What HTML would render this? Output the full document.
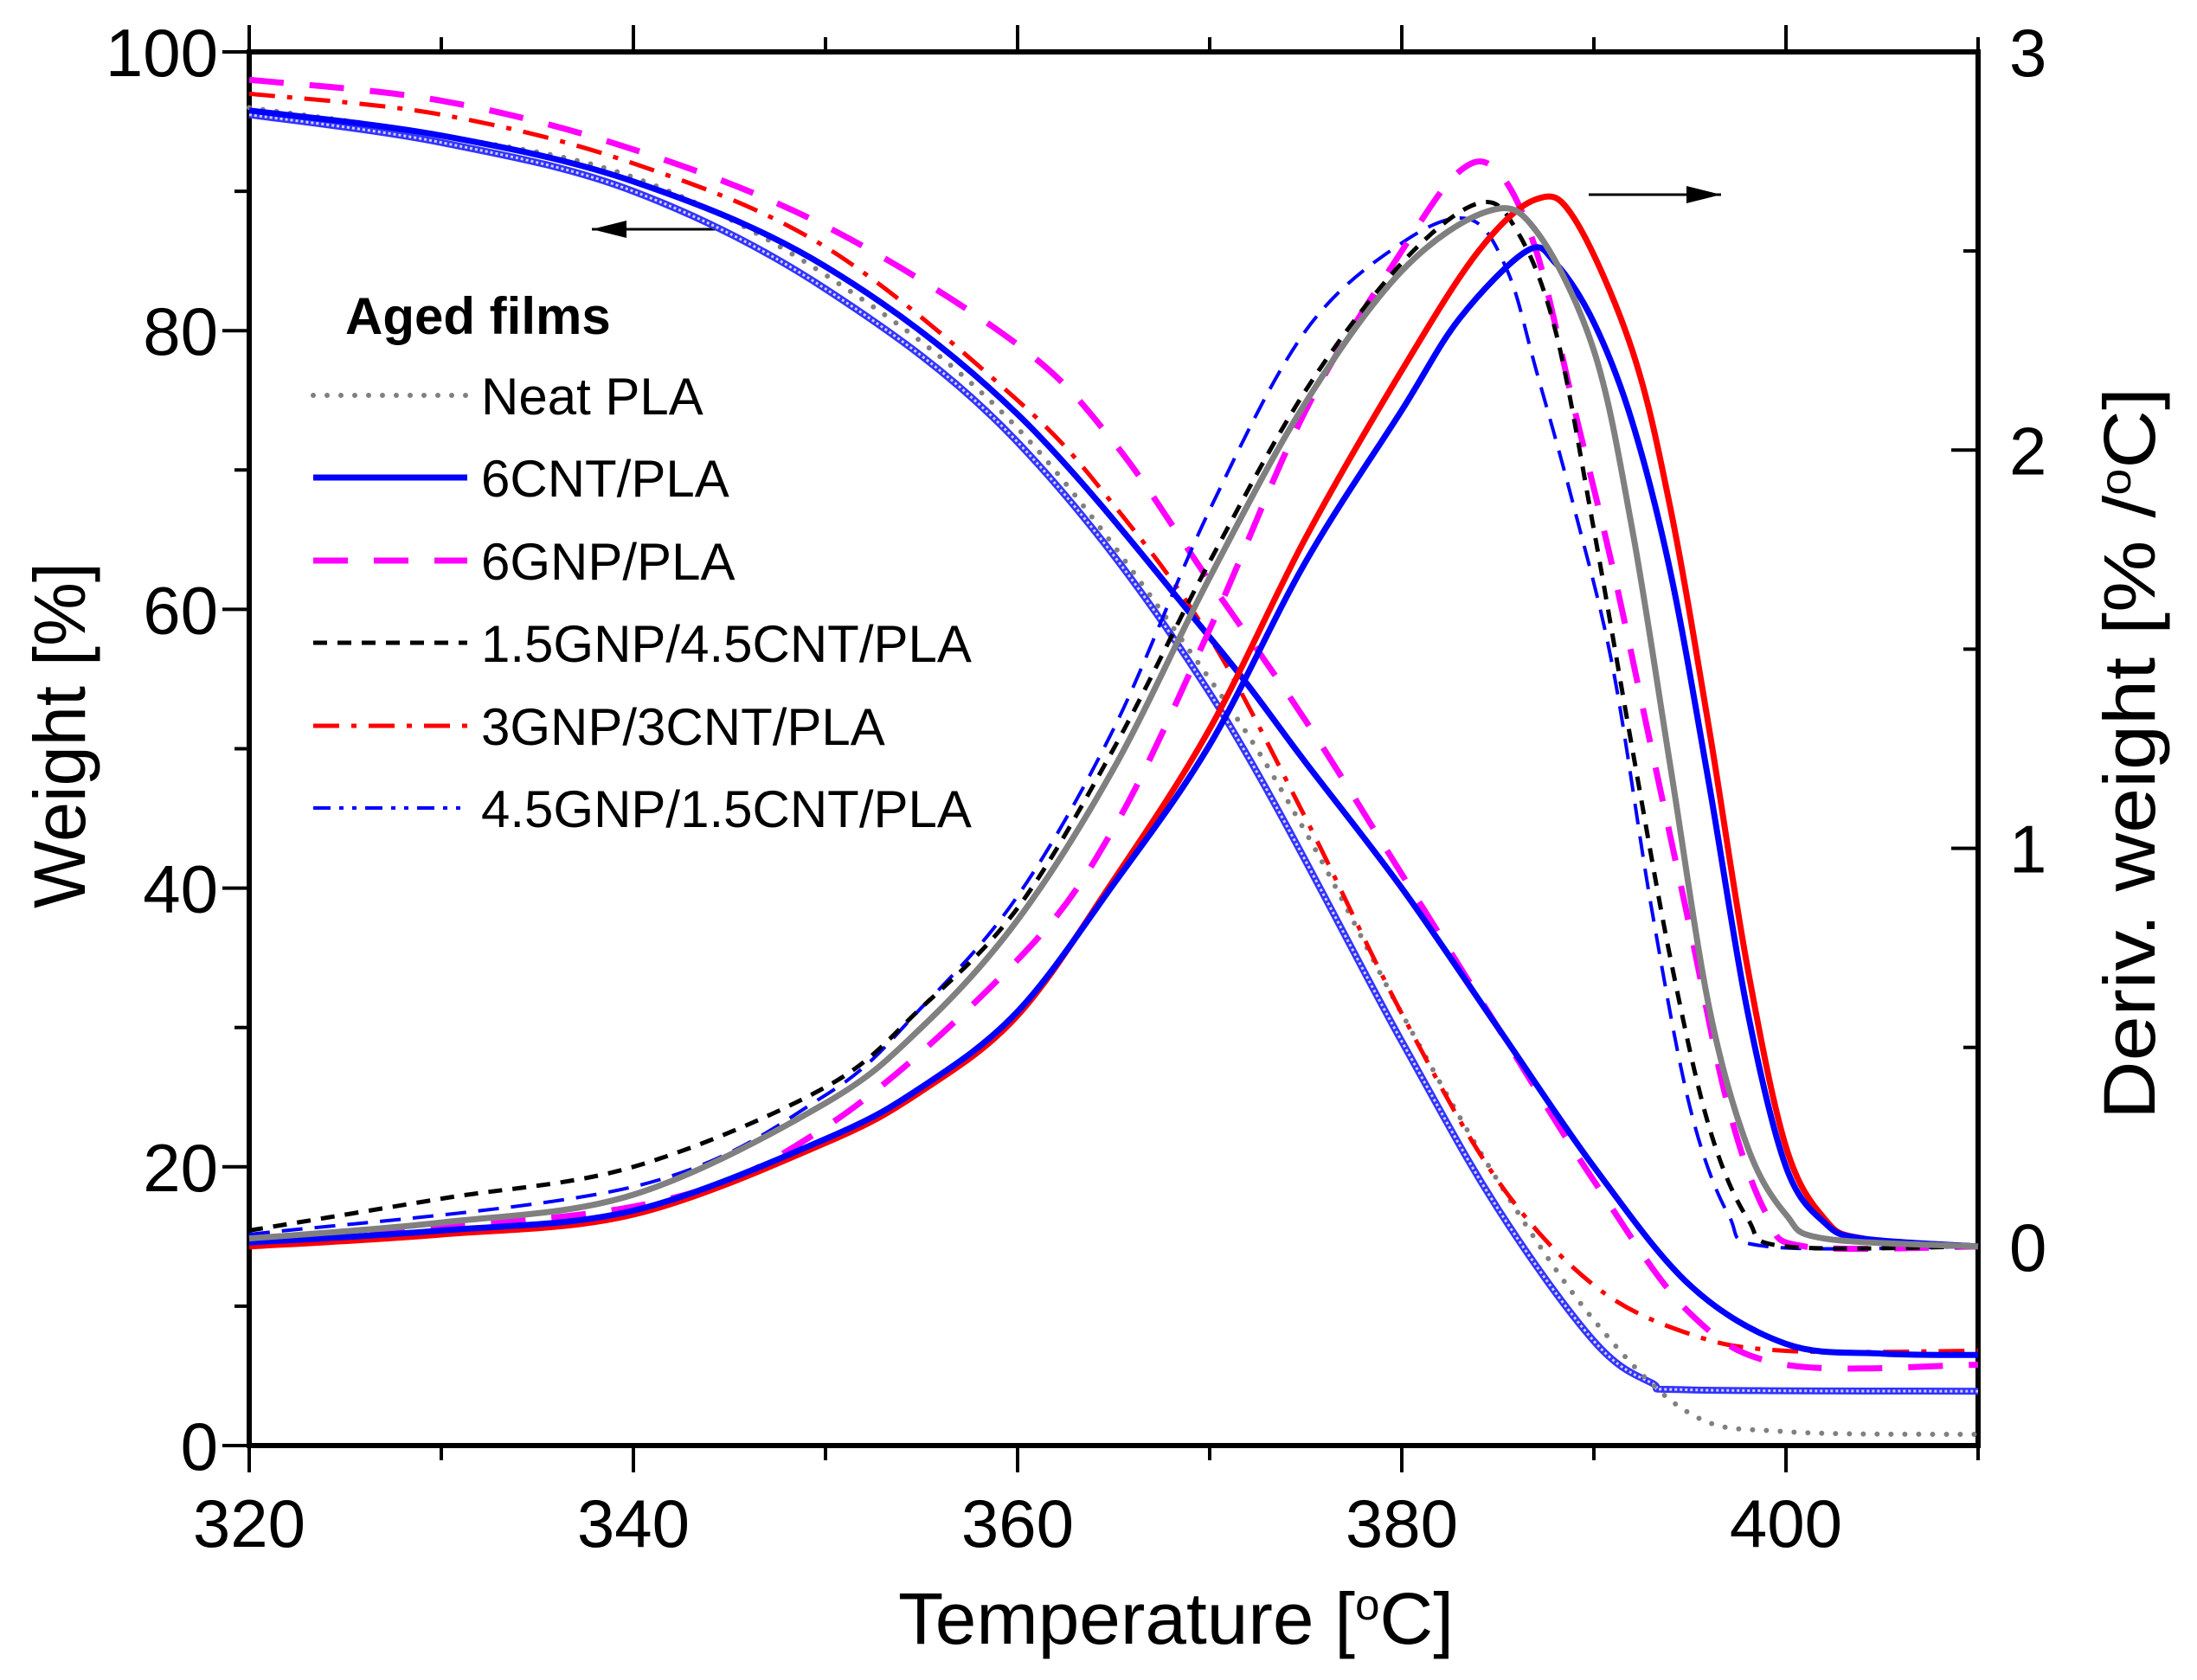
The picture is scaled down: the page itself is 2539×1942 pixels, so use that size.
<!DOCTYPE html>
<html><head><meta charset="utf-8"><style>
html,body{margin:0;padding:0;background:#fff}
svg{display:block}
text{font-family:"Liberation Sans",sans-serif}
</style></head><body>
<svg id="chart" width="2539" height="1942" viewBox="0 0 2539 1942" xmlns="http://www.w3.org/2000/svg">
<g id="axes"></g>
<g id="series"></g>
<g id="legend"></g>
</svg>
<script>
const xTicks=[320,340,360,380,400];
const yLeftTicks=[0,20,40,60,80,100];
const yRightTicks=[0,1,2,3];
// Weight curves
const wT_neat=[320,330,340,350,360,370,375,380,385,390,395,400,410];
const wV_neat=[96,94,91,84,73,55,44,31,19,9,2.3,1,0.8];
const wT_cnt=[320,330,340,350,360,370,375,380,385,390,395,400,405,410];
const wV_cnt=[95.8,94,90.7,84.6,74,58,49,40,30,20,11.5,7.3,6.6,6.5];
const wT_gnp=[320,330,340,350,360,365,370,375,380,385,390,395,400,410];
const wV_gnp=[98,96.5,93,87.5,79,72,62,52,41,30,19,9.5,5.8,5.8];
const wT_3=[320,330,340,350,360,365,370,375,380,385,390,395,400,410];
const wV_3=[97,95.5,92,86,75,67.5,58,45,31,19,11.5,8,6.8,6.8];
const wT_45=[320,330,340,350,360,370,380,385,390,393,395,410];
const wV_45=[95.5,93.5,90,83,72,54,29,17,7.5,4.5,4,3.9];
// Derivative curves
const dT_cnt=[320,330,340,350,355,360,365,370,375,380,383,386.5,388,390,392,394,396,398,400,402,404,410];
const dV_cnt=[0.01,0.04,0.09,0.27,0.40,0.59,0.91,1.26,1.72,2.1,2.33,2.5,2.47,2.32,2.07,1.69,1.16,0.59,0.2,0.06,0.02,0];
const dT_red=[320,330,340,350,355,360,365,370,375,380,384,387,389,392,394,396,398,400,402,404,410];
const dV_red=[0.0,0.03,0.08,0.26,0.39,0.58,0.92,1.30,1.78,2.2,2.5,2.63,2.58,2.25,1.85,1.3,0.7,0.25,0.07,0.02,0];
const dT_grey=[320,330,340,350,355,360,365,370,375,380,384.5,387,390,392,394,396,398,400,402,410];
const dV_grey=[0.02,0.06,0.13,0.36,0.55,0.82,1.2,1.68,2.12,2.45,2.6,2.55,2.25,1.8,1.2,0.6,0.25,0.08,0.02,0];
const dT_black=[320,330,340,350,355,360,365,370,375,380,384,386,388,390,392,394,396,398,400,410];
const dV_black=[0.04,0.12,0.2,0.4,0.6,0.85,1.25,1.72,2.15,2.47,2.62,2.55,2.3,1.8,1.25,0.72,0.3,0.07,0,0];
const dT_bd=[320,340,350,355,360,365,370,375,380,383.5,385.5,387,389,391,393,395,397,399,410];
const dV_bd=[0.03,0.15,0.38,0.6,0.88,1.3,1.85,2.3,2.52,2.58,2.45,2.2,1.85,1.45,0.85,0.35,0.08,0,0];
const dT_mag=[320,340,350,360,365,370,375,380,383,385,387,389,391,393,395,397,399,401,410];
const dV_mag=[0.02,0.1,0.3,0.72,1.05,1.55,2.1,2.5,2.7,2.7,2.5,2.1,1.7,1.25,0.8,0.35,0.08,0,0];
const legendLabels=["Neat PLA","6CNT/PLA","6GNP/PLA","1.5GNP/4.5CNT/PLA","3GNP/3CNT/PLA","4.5GNP/1.5CNT/PLA"];

const L=288,R=2286,T=60,B=1671;
const X=t=>L+(t-320)/(410-320)*(R-L);
const YL=v=>B-(v-0)/100*(B-T);
const YR=v=>B-(v+0.5)/3.5*(B-T);
const NS="http://www.w3.org/2000/svg";
function mk(tag,attrs,parent){const e=document.createElementNS(NS,tag);for(const k in attrs)e.setAttribute(k,attrs[k]);parent.appendChild(e);return e;}
function pathD(ts,vs,yf){
  const p=ts.map((t,i)=>[X(t),yf(vs[i])]);
  let d="M"+p[0][0].toFixed(1)+","+p[0][1].toFixed(1);
  for(let i=0;i<p.length-1;i++){
    const p0=p[Math.max(0,i-1)],p1=p[i],p2=p[i+1],p3=p[Math.min(p.length-1,i+2)];
    const c1=[p1[0]+(p2[0]-p0[0])/6,p1[1]+(p2[1]-p0[1])/6];
    const c2=[p2[0]-(p3[0]-p1[0])/6,p2[1]-(p3[1]-p1[1])/6];
    d+="C"+c1[0].toFixed(1)+","+c1[1].toFixed(1)+" "+c2[0].toFixed(1)+","+c2[1].toFixed(1)+" "+p2[0].toFixed(1)+","+p2[1].toFixed(1);
  }
  return d;
}
const axes=document.getElementById('axes'),series=document.getElementById('series'),legend=document.getElementById('legend');

const styles={
 grey:{stroke:"#808080",w:6,dash:"0 16",cap:"round"},
 cnt:{stroke:"#0000ff",w:7,dash:"",cap:"butt"},
 mag:{stroke:"#ff00ff",w:7,dash:"40 30",cap:"butt"},
 black:{stroke:"#000",w:5,dash:"16 12",cap:"butt"},
 red:{stroke:"#ff0000",w:5,dash:"30 14 6 14",cap:"butt"},
 b45:{stroke:"#3333ff",w:8,dash:"",cap:"butt"},
 bd:{stroke:"#0000ff",w:4,dash:"24 14",cap:"butt"},
 redS:{stroke:"#ff0000",w:7,dash:"",cap:"butt"},
 greyS:{stroke:"#808080",w:7,dash:"",cap:"butt"}
};
function draw(ts,vs,yf,st,name){
  const s=styles[st];
  const e=mk('path',{d:pathD(ts,vs,yf),fill:"none",stroke:s.stroke,"stroke-width":s.w,"stroke-linecap":s.cap},series);
  if(s.dash)e.setAttribute('stroke-dasharray',s.dash);
  
  
  return e;
}
draw(wT_45,wV_45,YL,"b45","weight-4.5gnp-1.5cnt-line");
const inner=mk('path',{d:pathD(wT_45,wV_45,YL),fill:"none",stroke:"#ccd0ff","stroke-width":3,"stroke-dasharray":"3 3"},series);


draw(wT_neat,wV_neat,YL,"grey","weight-neat-pla-line");
draw(wT_3,wV_3,YL,"red","weight-3gnp-3cnt-line");
draw(wT_gnp,wV_gnp,YL,"mag","weight-6gnp-line");
draw(wT_cnt,wV_cnt,YL,"cnt","weight-6cnt-line");
draw(dT_bd,dV_bd,YR,"bd","deriv-4.5gnp-1.5cnt-line");
draw(dT_mag,dV_mag,YR,"mag","deriv-6gnp-line");
draw(dT_black,dV_black,YR,"black","deriv-1.5gnp-4.5cnt-line");
draw(dT_red,dV_red,YR,"redS","deriv-3gnp-3cnt-line");
draw(dT_cnt,dV_cnt,YR,"cnt","deriv-6cnt-line");
draw(dT_grey,dV_grey,YR,"greyS","deriv-neat-pla-line");

const fr=mk('rect',{x:L,y:T,width:R-L,height:B-T,fill:"none",stroke:"#000","stroke-width":6},axes);


for(let t=320;t<=410;t+=10){
  const major=(t%20===0);
  const len=major?31:17;
  mk('line',{x1:X(t),y1:B,x2:X(t),y2:B+len,stroke:"#000","stroke-width":4},axes);
  mk('line',{x1:X(t),y1:T,x2:X(t),y2:T-len,stroke:"#000","stroke-width":4},axes);
}
xTicks.forEach(t=>{
  const e=mk('text',{x:X(t),y:1788,"font-size":78,"text-anchor":"middle"},axes);
  e.textContent=t;
  
  
});
for(let v=0;v<=100;v+=10){
  const len=(v%20===0)?31:17;
  mk('line',{x1:L,y1:YL(v),x2:L-len,y2:YL(v),stroke:"#000","stroke-width":4},axes);
}
yLeftTicks.forEach(v=>{
  const e=mk('text',{x:L-36,y:YL(v)+28,"font-size":78,"text-anchor":"end"},axes);
  e.textContent=v;
  
  
});
for(let v=-0.5;v<=3;v+=0.5){
  const len=(Math.abs(v%1)<1e-9)?31:17;
  mk('line',{x1:R,y1:YR(v),x2:R-len,y2:YR(v),stroke:"#000","stroke-width":4},axes);
}
yRightTicks.forEach(v=>{
  const e=mk('text',{x:R+36,y:YR(v)+28,"font-size":78,"text-anchor":"start"},axes);
  e.textContent=v;
  
  
});
let e=mk('text',{x:1359,y:1900,"font-size":84,"text-anchor":"middle",textLength:642,lengthAdjust:"spacingAndGlyphs"},axes);
e.innerHTML='Temperature [<tspan baseline-shift="super" font-size="50">o</tspan>C]';


e=mk('text',{x:0,y:0,"font-size":84,"text-anchor":"middle",textLength:400,lengthAdjust:"spacingAndGlyphs",transform:"translate(98,850) rotate(-90)"},axes);
e.textContent='Weight [%]';


e=mk('text',{x:0,y:0,"font-size":84,"text-anchor":"middle",textLength:846,lengthAdjust:"spacingAndGlyphs",transform:"translate(2490,871) rotate(-90)"},axes);
e.innerHTML='Deriv. weight [% /<tspan baseline-shift="super" font-size="50">o</tspan>C]';


function arrow(x1,x2,y,name){
  const g=mk('g',{},axes);
  
  
  mk('line',{x1:x1,y1:y,x2:x2,y2:y,stroke:"#000","stroke-width":3},g);
  const dir=Math.sign(x2-x1);
  mk('polygon',{points:`${x2},${y} ${x2-dir*40},${y-10} ${x2-dir*40},${y+10}`,fill:"#000"},g);
}
arrow(838,684,265,"left-axis-arrow");
arrow(1836,1989,225,"right-axis-arrow");
e=mk('text',{x:399,y:386,"font-size":60,"font-weight":"bold"},legend);
e.textContent='Aged films';


const legStyles=["grey","cnt","mag","black","red","bd"];
const legY=[457,552,648,743,839,934];
legendLabels.forEach((lab,i)=>{
  const s=styles[legStyles[i]];
  const ln=mk('line',{x1:362,y1:legY[i],x2:540,y2:legY[i],stroke:s.stroke,"stroke-width":s.w,"stroke-linecap":s.cap},legend);
  if(i===5)ln.setAttribute('stroke-dasharray',"20 10 5 10 5 10");
  else if(s.dash)ln.setAttribute('stroke-dasharray',s.dash);
  
  
  const t=mk('text',{x:556,y:legY[i]+22,"font-size":60},legend);
  t.textContent=lab;
  
  
});
</script>
</body></html>
